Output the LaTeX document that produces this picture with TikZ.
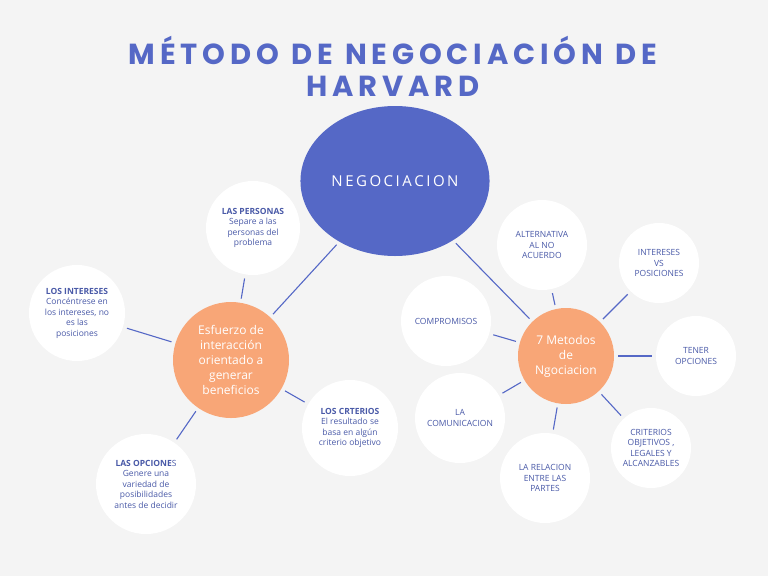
\documentclass[tikz,border=0pt]{standalone}
\usepackage{fontspec}
\usetikzlibrary{shapes.geometric}
\setmainfont{Open Sans}
\newfontfamily\titlefont{Poppins}
\definecolor{bgray}{HTML}{F4F4F4}
\definecolor{navy1}{HTML}{5568C6}
\definecolor{orange1}{HTML}{F8A677}
\definecolor{ink1}{HTML}{4A5AA8}
\tikzset{
  bubble/.style={circle, fill=white, text=ink1, align=center, font=\fontsize{8.5}{10.5}\selectfont, inner sep=0pt},
  hub/.style={circle, fill=orange1, text=white, align=center, font=\fontsize{12}{15}\selectfont, inner sep=0pt},
  link/.style={draw=navy1, line width=1.1pt, shorten <=4pt, shorten >=4pt}
}
\begin{document}
\begin{tikzpicture}[x=1pt, y=-1pt]
\fill[bgray] (0,0) rectangle (768,576);
\useasboundingbox (0,0) rectangle (768,576);
\node[text=navy1, font=\titlefont\bfseries\fontsize{29}{32}\selectfont, align=center] (title) at (393,66)
  {M\,É\,T\,O\,D\,O\ \ D\,E\ \ N\,E\,G\,O\,C\,I\,A\,C\,I\,Ó\,N\ \ D\,E\\H\,A\,R\,V\,A\,R\,D};
\node[ellipse, fill=navy1, minimum width=180, minimum height=150, text=white, font=\fontsize{15}{18}\selectfont] (neg) at (395,181) {N\,E\,G\,O\,C\,I\,A\,C\,I\,O\,N};
% left group
\node[hub, minimum size=116] (esf) at (231,360) {Esfuerzo de\\interacción\\orientado a\\generar\\beneficios};
\node[bubble, minimum size=94] (pers) at (253,228) {\textbf{LAS PERSONAS}\\Separe a las\\personas del\\problema};
\node[bubble, minimum size=96] (inte) at (77,313) {\textbf{LOS INTERESES}\\Concéntrese en\\los intereses, no\\es las\\posiciones};
\node[bubble, minimum size=100] (opci) at (146,484) {\textbf{LAS OPCIONE}S\\Genere una\\variedad de\\posibilidades\\antes de decidir};
\node[bubble, minimum size=96] (crit) at (350,428) {\textbf{LOS CRTERIOS}\\El resultado se\\basa en algún\\criterio objetivo};
% right group
\node[hub, minimum size=96] (met) at (566,356) {7 Metodos\\de\\Ngociacion};
\node[bubble, minimum size=90] (alt) at (542,245) {ALTERNATIVA\\AL NO\\ACUERDO};
\node[bubble, minimum size=80] (ivs) at (659,263) {INTERESES\\VS\\POSICIONES};
\node[bubble, minimum size=90] (comp) at (446,321) {COMPROMISOS};
\node[bubble, minimum size=80] (ten) at (696,356) {TENER\\OPCIONES};
\node[bubble, minimum size=90] (com) at (460,418) {LA\\COMUNICACION};
\node[bubble, minimum size=80] (cobj) at (651,448) {CRITERIOS\\OBJETIVOS ,\\LEGALES Y\\ALCANZABLES};
\node[bubble, minimum size=90] (rel) at (545,478) {LA RELACION\\ENTRE LAS\\PARTES};
% connectors
\draw[link] (neg) -- (esf);
\draw[link] (neg) -- (met);
\foreach \t in {pers,inte,opci,crit} \draw[link] (esf) -- (\t);
\foreach \t in {alt,ivs,comp,ten,com,cobj,rel} \draw[link] (met) -- (\t);
\end{tikzpicture}
\end{document}
